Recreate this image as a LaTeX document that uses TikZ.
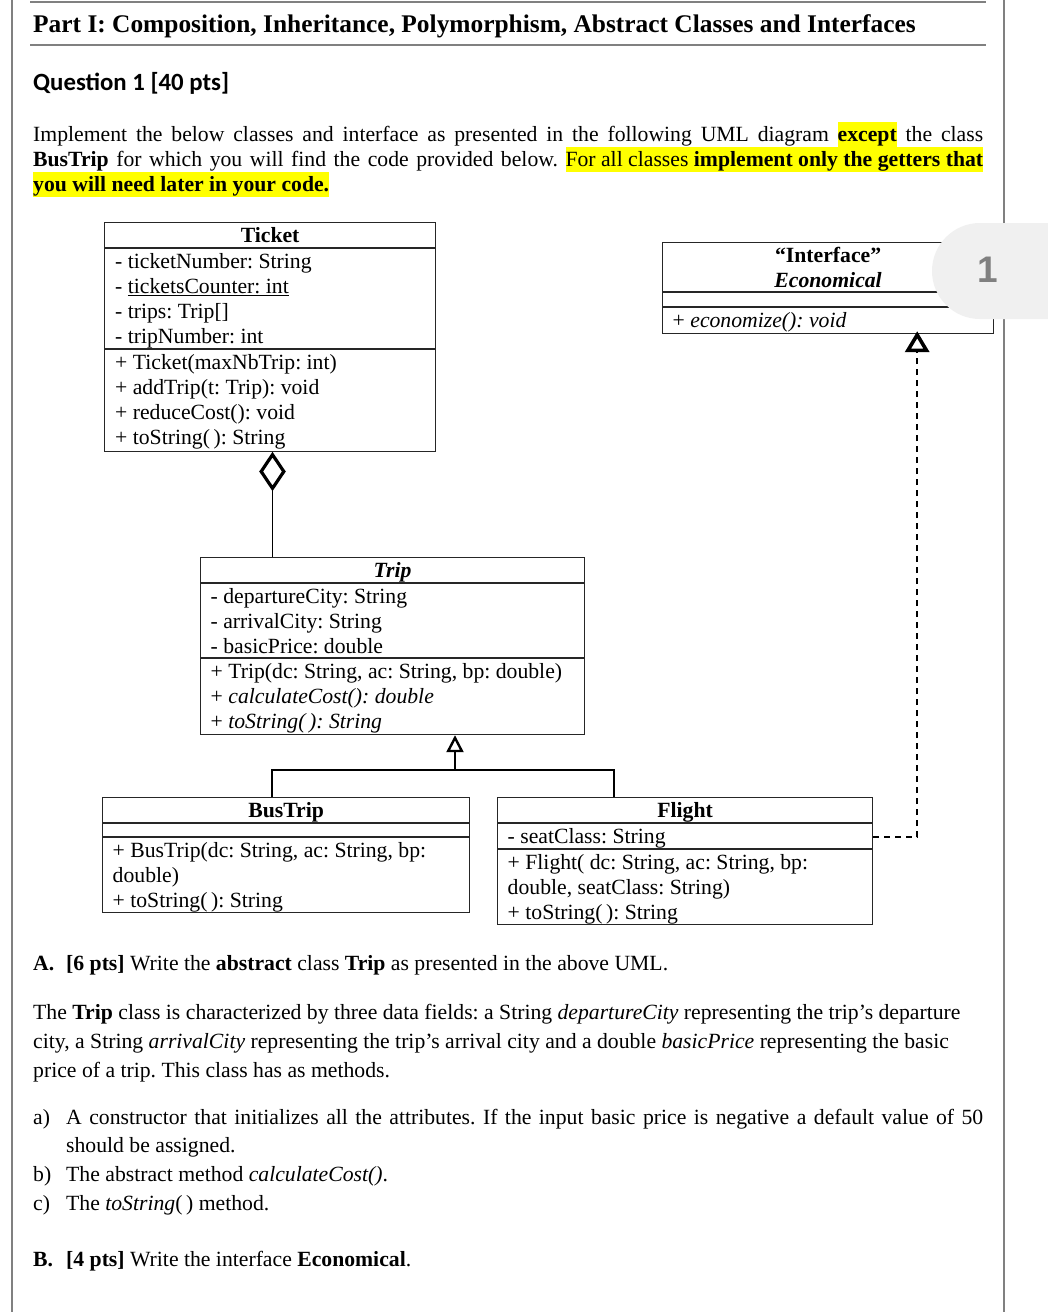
\documentclass[tikz,border=0pt]{standalone}
\usepackage{fontspec}
\setmainfont{Liberation Serif}
\newfontfamily\qfont{Carlito}
\newfontfamily\tabfont{Liberation Sans}
\usepackage{xcolor}
\usetikzlibrary{calc, arrows.meta, shapes.geometric}

\definecolor{hlyellow}{RGB}{255,255,0}
\definecolor{rulegray}{RGB}{128,128,128}
\frenchspacing
\newcommand\bodyfont{\fontsize{21.7}{25}\selectfont}
\newcommand\hlbox[1]{{\setlength\fboxsep{0pt}\colorbox{hlyellow}{\rule[-6pt]{0pt}{25pt}#1}}}

\begin{document}
\begin{tikzpicture}[x=1pt, y=-1pt,
        classbox/.style={draw=black!85, line width=1.2pt, inner sep=0pt, anchor=north west},
        sepline/.style={draw=black!85, line width=1.2pt},
        member/.style={anchor=north west, inner sep=0pt, align=left, font=\bodyfont},
        classname/.style={anchor=north, inner sep=0pt, align=center, font=\bodyfont},
        textline/.style={anchor=base west, inner sep=0pt, font=\bodyfont},
        aggregation/.style={diamond, draw, line width=3.2pt, minimum width=24pt, minimum height=35pt, inner sep=0pt},
        assoc/.style={line width=1.5pt},
        inherits/.style={line width=1.8pt, -{Triangle[open, length=17pt, width=17pt, line width=2.4pt]}},
        realizes/.style={line width=1.5pt, dash pattern=on 6pt off 5pt, -{Triangle[open, length=21pt, width=24pt, line width=3.6pt]}},
        frame/.style={draw=rulegray, line width=2pt},
        badge/.style={fill=black!6}
      ]
      % page and margins
      \fill[white] (0,0) rectangle (1048,1312);
      \useasboundingbox (0,0) rectangle (1048,1312);
      \draw[frame] (12,0) -- (12,1312);
      \draw[frame] (1004,0) -- (1004,1312);
      \draw[frame, line width=1.8pt] (30,2) -- (986,2);
      \draw[frame, line width=1.8pt] (30,45) -- (986,45);

      \node[textline, font=\fontsize{25.4}{29}\selectfont\bfseries] (part) at (33,32) {Part I: Composition, Inheritance, Polymorphism, Abstract Classes and Interfaces};
      \node[textline, font=\qfont\fontsize{24.8}{29}\selectfont\bfseries] (question) at (33,90) {Question 1 [40 pts]};

      \node[textline] (intro1) at (33,141) {\makebox[950pt][s]{Implement the below classes and interface as presented in the following UML diagram \hlbox{\textbf{except}} the class}};
      \node[textline] (intro2) at (33,166) {\makebox[950pt][s]{\textbf{BusTrip} for which you will find the code provided below. \hlbox{For all classes \textbf{implement only the getters that}}}};
      \node[textline] (intro3) at (33,191) {\hlbox{\textbf{you will need later in your code.}}};

      % class Ticket
      \node[classbox, minimum width=331pt, minimum height=229pt] (ticket) at (104,222) {};
      \draw[sepline] ($(ticket.north west)+(0,26)$) -- ++(331,0);
      \draw[sepline] ($(ticket.north west)+(0,127)$) -- ++(331,0);
      \node[classname] (ticketname) at ($(ticket.north)+(0,2.5)$) {\strut\textbf{Ticket}};
      \node[member] (ticketattr) at ($(ticket.north west)+(11,28.5)$) {\strut- ticketNumber: String\\\strut- \underline{ticketsCounter: int}\\\strut- trips: Trip[]\\\strut- tripNumber: int};
      \node[member] (ticketops) at ($(ticket.north west)+(11,129.5)$) {\strut+ Ticket(maxNbTrip: int)\\\strut+ addTrip(t: Trip): void\\\strut+ reduceCost(): void\\\strut+ toString(\,): String};

      % interface Economical
      \node[classbox, minimum width=331pt, minimum height=91pt] (econ) at (662,242) {};
      \draw[sepline] ($(econ.north west)+(0,50)$) -- ++(331,0);
      \draw[sepline] ($(econ.north west)+(0,65)$) -- ++(331,0);
      \node[classname] (econname) at ($(econ.north)+(0,2.5)$) {\strut\textbf{“Interface”}\\\strut\textbf{\textit{Economical}}};
      \node[member] (econops) at ($(econ.north west)+(10.5,67.5)$) {\strut+ \textit{economize(): void}};

      % abstract class Trip
      \node[classbox, minimum width=384pt, minimum height=177pt] (trip) at (200,557) {};
      \draw[sepline] ($(trip.north west)+(0,26)$) -- ++(384,0);
      \draw[sepline] ($(trip.north west)+(0,101)$) -- ++(384,0);
      \node[classname] (tripname) at ($(trip.north)+(0,2.5)$) {\strut\textbf{\textit{Trip}}};
      \node[member] (tripattr) at ($(trip.north west)+(10.5,28.5)$) {\strut- departureCity: String\\\strut- arrivalCity: String\\\strut- basicPrice: double};
      \node[member] (tripops) at ($(trip.north west)+(10.5,103.5)$) {\strut+ Trip(dc: String, ac: String, bp: double)\\\strut+ \textit{calculateCost(): double}\\\strut+ \textit{toString(\,): String}};

      % class BusTrip
      \node[classbox, minimum width=367pt, minimum height=115pt] (bus) at (102,797) {};
      \draw[sepline] ($(bus.north west)+(0,26)$) -- ++(367,0);
      \draw[sepline] ($(bus.north west)+(0,40)$) -- ++(367,0);
      \node[classname] (busname) at ($(bus.north)+(0,2.5)$) {\strut\textbf{BusTrip}};
      \node[member] (busops) at ($(bus.north west)+(10.5,42.5)$) {\strut+ BusTrip(dc: String, ac: String, bp:\\\strut double)\\\strut+ toString(\,): String};

      % class Flight
      \node[classbox, minimum width=375pt, minimum height=127pt] (flight) at (497,797) {};
      \draw[sepline] ($(flight.north west)+(0,26)$) -- ++(375,0);
      \draw[sepline] ($(flight.north west)+(0,52)$) -- ++(375,0);
      \node[classname] (flightname) at ($(flight.north)+(0,2.5)$) {\strut\textbf{Flight}};
      \node[member] (flightattr) at ($(flight.north west)+(10.5,28.5)$) {\strut- seatClass: String};
      \node[member] (flightops) at ($(flight.north west)+(10.5,54.5)$) {\strut+ Flight( dc: String, ac: String, bp:\\\strut double, seatClass: String)\\\strut+ toString(\,): String};

      % relations
      \node[aggregation] (agg) at (272.5,471.5) {};
      \draw[assoc] (agg.south) -- (agg.south |- trip.north);
      \coordinate (fork) at (455,770);
      \coordinate (busin) at ($(bus.north west)+(170,0)$);
      \coordinate (flightin) at ($(flight.north west)+(117,0)$);
      \draw[assoc, line width=1.8pt] (busin) |- (fork) -| (flightin);
      \draw[inherits] (fork) -- (fork |- trip.south);
      \draw[realizes] ($(flight.north east)+(0,40)$) -| ($(econ.south east)+(-77,-3)$);

      % page tab
      \fill[badge, rounded corners=48pt] (932,223) rectangle (1110,319);
      \node[font=\tabfont\bfseries\fontsize{37}{37}\selectfont, text=black!50, inner sep=0pt] (tabnum) at (988,270) {1};

      % questions
      \node[textline] (qa) at (33,970) {\textbf{A.}};
      \node[textline] (qatext) at (66,970) {\textbf{[6 pts]} Write the \textbf{abstract} class \textbf{Trip} as presented in the above UML.};
      \node[textline] (desc1) at (33,1019) {The \textbf{Trip} class is characterized by three data fields: a String \textit{departureCity} representing the trip’s departure};
      \node[textline] (desc2) at (33,1048) {city, a String \textit{arrivalCity} representing the trip’s arrival city and a double \textit{basicPrice} representing the basic};
      \node[textline] (desc3) at (33,1077) {price of a trip. This class has as methods.};
      \node[textline] (ia) at (33,1124) {a)};
      \node[textline] (iatext) at (66,1124) {\makebox[917pt][s]{A constructor that initializes all the attributes. If the input basic price is negative a default value of 50}};
      \node[textline] (iatext2) at (66,1152) {should be assigned.};
      \node[textline] (ib) at (33,1181) {b)};
      \node[textline] (ibtext) at (66,1181) {The abstract method \textit{calculateCost()}.};
      \node[textline] (ic) at (33,1210) {c)};
      \node[textline] (ictext) at (66,1210) {The \textit{toString}(\,) method.};
      \node[textline] (qb) at (33,1266) {\textbf{B.}};
      \node[textline] (qbtext) at (66,1266) {\textbf{[4 pts]} Write the interface \textbf{Economical}.};
    \end{tikzpicture}
\end{document}
